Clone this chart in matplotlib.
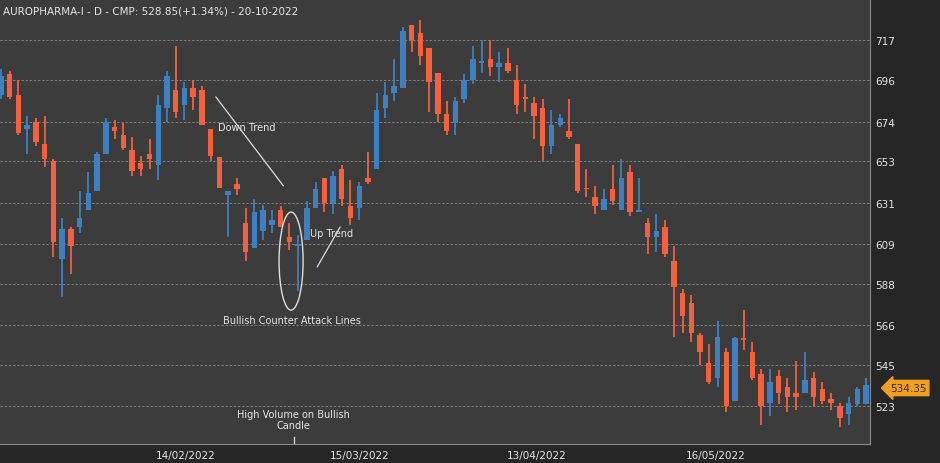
import matplotlib.pyplot as plt
from matplotlib.patches import Ellipse

# OHLC per day
opens = [688, 699, 688, 670, 674, 662, 653, 601, 617, 618,
         627, 637, 657, 671, 667, 659, 652, 657, 651, 681,
         691, 683, 692, 691, 670, 655, 635, 641, 620, 607,
         616, 619, 627, 613, 608, 611, 628, 644, 631, 649,
         629, 628, 644, 649, 681, 689, 692, 725, 721, 713,
         700, 678, 673, 686, 696, 705, 707, 703, 705, 696,
         687, 684, 681, 661, 672, 669, 662, 639, 634, 627,
         638, 627, 647, 626, 620, 613, 618, 600, 583, 578,
         561, 546, 538, 552, 526, 559, 552, 540, 525, 539,
         533, 530, 530, 538, 532, 527, 523, 519, 524, 524]
closes = [698, 687, 668, 672, 663, 654, 610, 617, 608, 623,
          636, 657, 674, 669, 660, 648, 649, 654, 683, 698,
          679, 692, 687, 672, 656, 639, 637, 638, 605, 626,
          627, 622, 618, 610, 609, 628, 638, 631, 645, 633,
          623, 640, 642, 680, 688, 693, 722, 717, 709, 695,
          678, 669, 685, 696, 707, 706, 703, 705, 701, 683,
          686, 677, 661, 672, 676, 666, 637, 638, 629, 633,
          632, 644, 626, 627, 613, 616, 604, 586, 571, 562,
          552, 536, 560, 523, 559, 558, 538, 523, 536, 530,
          528, 528, 537, 528, 526, 525, 517, 525, 532, 534.35]
highs = [702, 701, 696, 677, 676, 677, 654, 623, 618, 637,
         647, 658, 676, 675, 673, 666, 656, 665, 688, 701,
         714, 695, 696, 693, 670, 655, 637, 644, 628, 633,
         630, 627, 629, 620, 614, 632, 642, 644, 648, 651,
         643, 642, 658, 689, 695, 707, 724, 725, 728, 713,
         700, 685, 687, 699, 714, 717, 717, 711, 713, 704,
         694, 687, 686, 680, 678, 686, 662, 649, 640, 638,
         651, 654, 651, 644, 623, 625, 622, 608, 585, 582,
         562, 556, 568, 554, 560, 574, 557, 543, 543, 542,
         538, 547, 552, 541, 536, 530, 525, 528, 533, 538]
lows = [686, 686, 667, 657, 661, 650, 602, 581, 593, 615,
        627, 637, 657, 665, 659, 645, 645, 649, 643, 674,
        676, 675, 680, 672, 653, 639, 613, 635, 600, 607,
        611, 615, 618, 606, 584, 611, 628, 626, 625, 629,
        619, 622, 641, 649, 676, 685, 692, 711, 704, 679,
        674, 667, 667, 684, 694, 700, 698, 695, 700, 678,
        679, 665, 653, 657, 671, 665, 636, 634, 625, 627,
        630, 627, 624, 626, 604, 605, 602, 560, 562, 557,
        545, 535, 533, 520, 526, 553, 537, 513, 518, 524,
        520, 521, 530, 523, 524, 521, 512, 513, 523, 524]

y_ticks = [523, 545, 566, 588, 609, 631, 653, 674, 696, 717]
date_pos = [21.1, 41.1, 61.3, 81.8]
date_labels = ["14/02/2022", "15/03/2022", "13/04/2022", "16/05/2022"]

UP = "#3f80c0"
DOWN = "#f5603e"
TXT = "#e6e6e6"

fig = plt.figure(figsize=(9.4, 4.64), dpi=100, facecolor="#262626")
ax = fig.add_axes([0, 19 / 464, 870 / 940, 445 / 464], facecolor="#3c3c3c")

for i, (o, c, h, l) in enumerate(zip(opens, closes, highs, lows)):
    col = UP if c >= o else DOWN
    ax.vlines(i, l, h, color=col, lw=1.3, zorder=3)
    ax.bar(i, max(abs(c - o), 0.6), bottom=min(o, c), width=0.62, color=col, zorder=4)

ax.set_xlim(-0.11, 99.45)
ax.set_ylim(503, 739)
ax.yaxis.tick_right()
ax.set_yticks(y_ticks)
ax.set_xticks(date_pos)
ax.set_xticklabels(date_labels)
ax.tick_params(colors=TXT, labelsize=7.5, length=0, pad=4)
ax.grid(axis="y", color="#8a8a8a", ls=(0, (3, 2)), lw=0.6)
for s in ax.spines.values():
    s.set_color("#8a8a8a")
    s.set_linewidth(0.8)
ax.spines["top"].set_visible(False)
ax.spines["left"].set_visible(False)

ax.text(0.003, 0.985, "AUROPHARMA-I - D - CMP: 528.85(+1.34%) - 20-10-2022",
        transform=ax.transAxes, color=TXT, fontsize=7.5, va="top")

# annotations
ax.plot([24.6, 32.3], [687, 640], color="#dddddd", lw=0.9)
ax.text(24.8, 671, "Down Trend", color=TXT, fontsize=7, va="center")
ax.plot([36.2, 38.8], [597, 618], color="#dddddd", lw=0.9)
ax.text(35.4, 615, "Up Trend", color=TXT, fontsize=7, va="center")
ax.add_patch(Ellipse((33.2, 600), 2.75, 52, fill=False, ec="#dddddd", lw=1.0, zorder=5))
ax.text(33.3, 569, "Bullish Counter Attack Lines", color=TXT, fontsize=7, ha="center", va="center")
ax.text(33.5, 516, "High Volume on Bullish\nCandle", color=TXT, fontsize=7, ha="center",
        va="center", linespacing=1.1)
ax.plot([33.5, 33.5], [503, 506.5], color="#dddddd", lw=0.9)

# last price tag
fig.text(0.966, 1 - 389 / 464, "534.35", color="#3a2a00", fontsize=7.5, ha="center", va="center",
         bbox=dict(boxstyle="larrow,pad=0.25", fc="#f0a020", ec="#f0a020"))

fig.savefig("out.png", dpi=100, facecolor=fig.get_facecolor())
